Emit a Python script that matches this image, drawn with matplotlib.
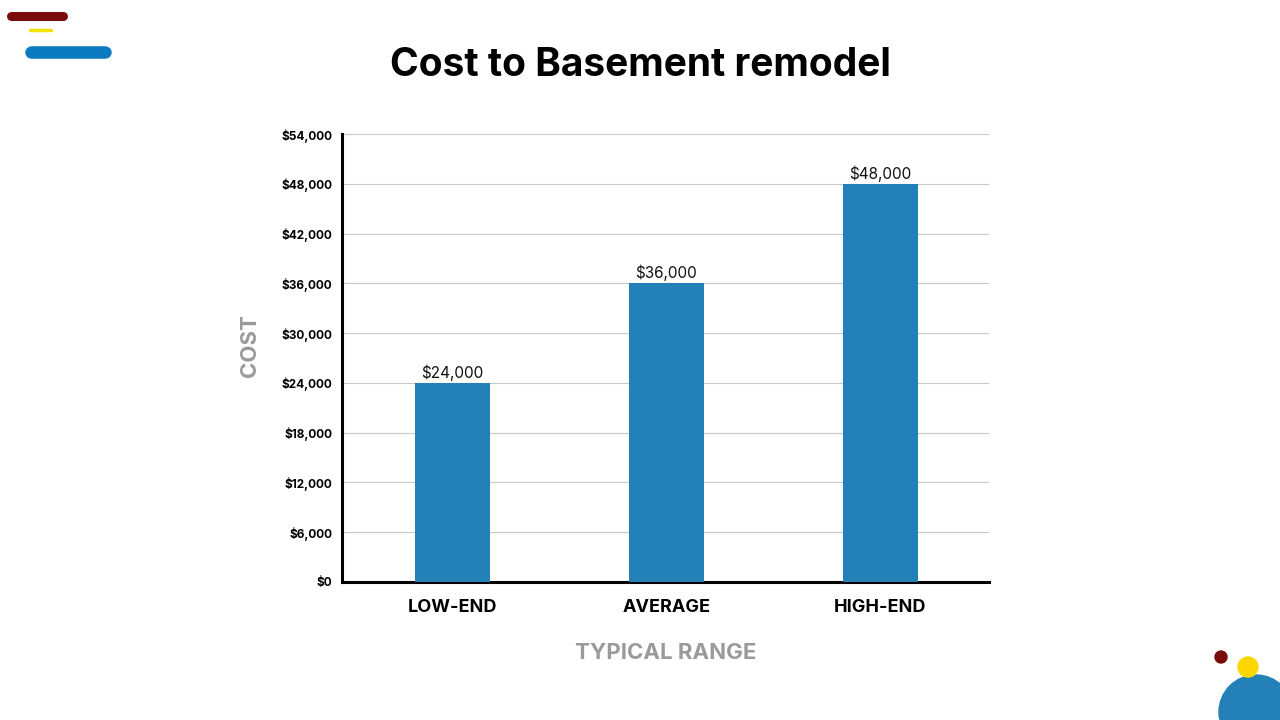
import matplotlib
matplotlib.use("Agg")
import matplotlib.pyplot as plt
from matplotlib.lines import Line2D
from matplotlib.patches import Ellipse

categories = ["LOW-END", "AVERAGE", "HIGH-END"]
values = [24000, 36000, 48000]
value_labels = ["$24,000", "$36,000", "$48,000"]
yticks = [0, 6000, 12000, 18000, 24000, 30000, 36000, 42000, 48000, 54000]
ytick_labels = ["$0", "$6,000", "$12,000", "$18,000", "$24,000", "$30,000",
                "$36,000", "$42,000", "$48,000", "$54,000"]

plt.rcParams['font.family'] = ['Inter', 'DejaVu Sans']

fig = plt.figure(figsize=(12.8, 7.2), dpi=100)
fig.patch.set_facecolor("white")

ax = fig.add_axes([0.267, 0.1917, 0.5055, 0.622])
ax.set_facecolor("none")
x = list(range(len(categories)))
ax.bar(x, values, width=0.35, color="#2481b8", zorder=3)
for xi, v, lab in zip(x, values, value_labels):
    ax.text(xi, v + 250, lab, ha="center", va="bottom", fontsize=11, color="#111111")

ax.set_xlim(-0.516, 2.507)
ax.set_ylim(0, 54000)
ax.set_yticks(yticks)
ax.set_yticklabels(ytick_labels, fontsize=8.5, fontweight="bold")
ax.set_xticks(x)
ax.set_xticklabels(categories, fontsize=13, fontweight="bold")
ax.tick_params(axis="y", length=0, pad=7)
ax.tick_params(axis="x", length=0, pad=12)
ax.grid(axis="y", color="#c8c8c8", linewidth=0.8, zorder=0)
for s in ["top", "right"]:
    ax.spines[s].set_visible(False)
ax.spines["left"].set_linewidth(2.2)
ax.spines["bottom"].set_linewidth(2.2)
ax.set_ylabel("COST", fontsize=16, fontweight="bold", color="#9a9a9a")
ax.yaxis.set_label_coords(-0.127, 0.529)
ax.set_xlabel("TYPICAL RANGE", fontsize=16, fontweight="bold", color="#9a9a9a", labelpad=20)

fig.text(0.5, 0.909, "Cost to Basement remodel", ha="center", va="center",
         fontsize=28, fontweight="bold", color="black")

w, h = 1280, 720

def hline(x0, x1, y, lw, color):
    fig.add_artist(Line2D([x0 / w, x1 / w], [1 - y / h, 1 - y / h],
                          transform=fig.transFigure, color=color, linewidth=lw,
                          solid_capstyle="round"))
hline(11, 63, 16, 6.5, "#7b0a0a")
hline(30, 51, 30, 2.5, "#f2e200")
hline(31, 105, 52, 9, "#0a7bc0")

def ell(cx, cy, r, color):
    fig.add_artist(Ellipse((cx / w, 1 - cy / h), 2 * r / w, 2 * r / h,
                           transform=fig.transFigure, color=color, zorder=5))
ell(1256, 712, 37, "#2481b8")
ell(1248, 667, 10, "#ffd700")
ell(1221, 657, 6, "#7b0a0a")

fig.savefig("out.png", dpi=100, facecolor="white")
